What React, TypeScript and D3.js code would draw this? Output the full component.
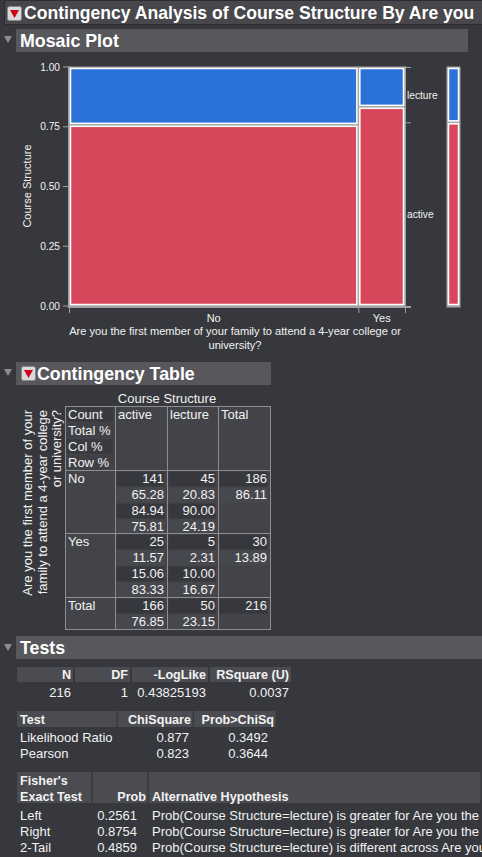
import React from 'react';
import * as d3 from 'd3';

const firstGen = ['No', 'Yes'];
const structures = ['active', 'lecture'];
const counts = [
  [141, 45],
  [25, 5],
];
const yTicks = [0, 0.25, 0.5, 0.75, 1];

const fitHeaders = ['N', 'DF', '-LogLike', 'RSquare (U)'];
const fitValues = ['216', '1', '0.43825193', '0.0037'];

const testHeaders = ['Test', 'ChiSquare', 'Prob>ChiSq'];
const testNames = ['Likelihood Ratio', 'Pearson'];
const chiSquares = ['0.877', '0.823'];
const chiProbs = ['0.3492', '0.3644'];

const fisherSides = ['Left', 'Right', '2-Tail'];
const fisherProbs = ['0.2561', '0.8754', '0.4859'];
// only the visible part of each hypothesis fits the report width
const fisherHyp = [
  'Prob(Course Structure=lecture) is greater for Are you the',
  'Prob(Course Structure=lecture) is greater for Are you the',
  'Prob(Course Structure=lecture) is different across Are you',
];

const BG = '#36383d';
const BLUE = '#2a72d8';
const RED = '#d8465b';
const TXT = '#f2f2f2';
const FONT = '"Liberation Sans", Arial, Helvetica, sans-serif';

const RedIcon = ({ x, y }: { x: number; y: number }) => (
  <g transform={`translate(${x},${y})`}>
    <rect x={0.5} y={0.5} width={14} height={14} rx={2} fill="#d9d9d9" stroke="#8a8a8a" />
    <path d="M3,4 L12,4 L7.5,12 Z" fill="#d0021b" />
  </g>
);

const Disclosure = ({ x, y }: { x: number; y: number }) => (
  <path d={`M${x},${y} L${x + 8},${y} L${x + 4},${y + 7} Z`} fill="#8e8e93" />
);

function Mosaic() {
  const rowTotals = counts.map(r => d3.sum(r));
  const grand = d3.sum(rowTotals);
  const colTotals = structures.map((_, j) => d3.sum(counts, r => r[j]));
  const x = d3.scaleLinear().domain([0, grand]).range([69, 405]);
  const y = d3.scaleLinear().domain([0, 1]).range([306, 67]);
  const cum = [0, ...d3.cumsum(rowTotals)];
  const colors = [RED, BLUE];
  const margActive = colTotals[0] / grand;

  const cells: JSX.Element[] = [];
  firstGen.forEach((g, i) => {
    const x0 = x(cum[i]);
    const x1 = x(cum[i + 1]);
    let acc = 0;
    structures.forEach((s, j) => {
      const p = counts[i][j] / rowTotals[i];
      const yb = y(acc);
      const yt = y(acc + p);
      acc += p;
      cells.push(
        <rect key={g + s} x={x0 + 1.5} y={yt + 1.5} width={x1 - x0 - 3} height={yb - yt - 3}
          fill={colors[j]} stroke="#fff" strokeWidth={1.5} />
      );
    });
  });

  // side bar with marginal proportions
  const sb0 = 447, sb1 = 460;
  const side: JSX.Element[] = [];
  let acc = 0;
  structures.forEach((s, j) => {
    const p = colTotals[j] / grand;
    const yb = y(acc);
    const yt = y(acc + p);
    acc += p;
    side.push(
      <rect key={s} x={sb0 + 1.5} y={yt + 1.5} width={sb1 - sb0 - 3} height={yb - yt - 3}
        fill={colors[j]} stroke="#fff" strokeWidth={1.5} />
    );
  });

  return (
    <g fontFamily={FONT} fill={TXT}>
      <rect x={68.5} y={66.5} width={405 - 68.5} height={307 - 66.5} fill="#a6a6a6" />
      {cells}
      {/* y axis */}
      <line x1={68.5} x2={68.5} y1={66} y2={307} stroke="#a0a0a0" />
      {yTicks.map(t => (
        <g key={t}>
          <line x1={63} x2={68} y1={y(t)} y2={y(t)} stroke="#a0a0a0" />
          <text x={60} y={y(t) + 3.5} fontSize={10.2} textAnchor="end">{d3.format('.2f')(t)}</text>
        </g>
      ))}
      <text transform="translate(31,186) rotate(-90)" fontSize={11} textAnchor="middle">Course Structure</text>
      {/* bottom axis */}
      <line x1={68} x2={411} y1={307.5} y2={307.5} stroke="#a0a0a0" />
      {cum.map((c, i) => (
        <line key={i} x1={x(c) + 0.5} x2={x(c) + 0.5} y1={307} y2={313} stroke="#a0a0a0" />
      ))}
      {firstGen.map((g, i) => (
        <text key={g} x={(x(cum[i]) + x(cum[i + 1])) / 2} y={321.5} fontSize={11} textAnchor="middle">{g}</text>
      ))}
      <text x={235} y={334.5} fontSize={11.1} textAnchor="middle">Are you the first member of your family to attend a 4-year college or</text>
      <text x={235} y={348.5} fontSize={11.1} textAnchor="middle">university?</text>
      {/* right axis */}
      <line x1={405.5} x2={405.5} y1={66} y2={307} stroke="#a0a0a0" />
      {[0, margActive, 1].map((t, i) => (
        <line key={i} x1={405} x2={411} y1={y(t) + 0.5} y2={y(t) + 0.5} stroke="#a0a0a0" />
      ))}
      <text x={407} y={y((margActive + 1) / 2) + 4} fontSize={10.2}>{structures[1]}</text>
      <text x={407} y={y(margActive / 2) + 4} fontSize={10.2}>{structures[0]}</text>
      {/* side bar */}
      <rect x={sb0 - 0.5} y={66.5} width={sb1 - sb0 + 1} height={241} fill="#a6a6a6" />
      {side}
    </g>
  );
}

function ContTable() {
  const xs = [65, 115, 167, 218, 270];
  const top = 406;
  const sub = 16;
  const blocks = [
    { label: '', rows: 4, y0: top },
    { label: 'No', rows: 4, y0: top + 64 },
    { label: 'Yes', rows: 4, y0: top + 127 },
    { label: 'Total', rows: 2, y0: top + 191 },
  ];
  const bottom = top + 223;
  const rowTotals = counts.map(r => d3.sum(r));
  const grand = d3.sum(rowTotals);
  const colTotals = structures.map((_, j) => d3.sum(counts, r => r[j]));
  const f2 = d3.format('.2f');

  const values = (bi: number, ci: number): string[] => {
    if (bi === 0) return [];
    if (bi <= 2) {
      const i = bi - 1;
      if (ci < 2) {
        const n = counts[i][ci];
        return [String(n), f2((n / grand) * 100), f2((n / colTotals[ci]) * 100), f2((n / rowTotals[i]) * 100)];
      }
      return [String(rowTotals[i]), f2((rowTotals[i] / grand) * 100)];
    }
    if (ci < 2) return [String(colTotals[ci]), f2((colTotals[ci] / grand) * 100)];
    return [String(grand)];
  };

  const els: JSX.Element[] = [];
  blocks.forEach((b, bi) => {
    for (let ci = 0; ci < 4; ci++) {
      const vals = values(bi, ci);
      vals.forEach((v, k) => {
        const yy = b.y0 + k * sub;
        els.push(
          <rect key={`b${bi}${ci}${k}`} x={xs[ci + 1] + 1.5} y={yy + 1.5} width={xs[ci + 2] - xs[ci + 1] - 4} height={sub - 1}
            fill={k % 2 === 0 ? '#37383d' : '#47484d'} />
        );
        els.push(
          <text key={`t${bi}${ci}${k}`} x={xs[ci + 2] - 3} y={yy + 13} fontSize={13} textAnchor="end">{v}</text>
        );
      });
    }
  });

  const headLabels = ['Count', 'Total %', 'Col %', 'Row %'];

  return (
    <g fontFamily={FONT} fill={TXT}>
      <text x={167} y={403} fontSize={13} textAnchor="middle">Course Structure</text>
      <rect x={xs[0]} y={top} width={xs[4] - xs[0]} height={bottom - top} fill="#434449" />
      {headLabels.map((h, k) => (
        <g key={h}>
          <rect x={xs[0] + 1} y={top + k * sub + 1} width={xs[1] - xs[0] - 3} height={sub - 1}
            fill={k % 2 === 0 ? '#3a3b40' : '#404146'} />
          <text x={xs[0] + 3} y={top + k * sub + 13} fontSize={13}>{h}</text>
        </g>
      ))}
      {structures.map((s, j) => (
        <text key={s} x={xs[j + 1] + 3} y={top + 13} fontSize={13}>{s}</text>
      ))}
      <text x={xs[3] + 3} y={top + 13} fontSize={13}>Total</text>
      {blocks.slice(1).map(b => (
        <text key={b.label} x={xs[0] + 3} y={b.y0 + 13} fontSize={13}>{b.label}</text>
      ))}
      {els}
      {/* grid */}
      {xs.map(xx => (
        <line key={xx} x1={xx + 0.5} x2={xx + 0.5} y1={top} y2={bottom} stroke="#8d8e94" />
      ))}
      {[...blocks.map(b => b.y0), bottom].map(yy => (
        <line key={yy} x1={xs[0]} x2={xs[4] + 1} y1={yy + 0.5} y2={yy + 0.5} stroke="#8d8e94" />
      ))}
      <g fontSize={13} textAnchor="end">
        <text transform="translate(32,410) rotate(-90)">Are you the first member of your</text>
        <text transform="translate(47,410) rotate(-90)">family to attend a 4-year college</text>
        <text transform="translate(61,410) rotate(-90)">or university?</text>
      </g>
    </g>
  );
}

function Tests() {
  const fitCols = [17, 75, 132, 210, 293];
  const testCols = [17, 118, 194, 277];
  const fishCols = [17, 92.5, 149, 482];
  const hb = '#4b4c51';
  return (
    <g fontFamily={FONT} fill={TXT}>
      {fitHeaders.map((h, i) => (
        <g key={h}>
          <rect x={fitCols[i]} y={667} width={fitCols[i + 1] - fitCols[i] - 2} height={15} fill={hb} />
          <text x={fitCols[i + 1] - 4} y={679} fontSize={12.6} fontWeight="bold" textAnchor="end">{h}</text>
          <text x={fitCols[i + 1] - 4} y={697} fontSize={13} textAnchor="end">{fitValues[i]}</text>
        </g>
      ))}
      {testHeaders.map((h, i) => (
        <g key={h}>
          <rect x={testCols[i]} y={711} width={testCols[i + 1] - testCols[i] - 1.5} height={16} fill={hb} />
          <text x={i === 0 ? testCols[0] + 3 : testCols[i + 1] - 3} y={723.5} fontSize={12.6} fontWeight="bold"
            textAnchor={i === 0 ? 'start' : 'end'}>{h}</text>
        </g>
      ))}
      {testNames.map((n, r) => (
        <g key={n} fontSize={13}>
          <text x={20} y={741.5 + r * 16}>{n}</text>
          <text x={189} y={741.5 + r * 16} textAnchor="end">{chiSquares[r]}</text>
          <text x={268} y={741.5 + r * 16} textAnchor="end">{chiProbs[r]}</text>
        </g>
      ))}
      {fishCols.slice(0, 3).map((c, i) => (
        <rect key={c} x={c} y={772} width={fishCols[i + 1] - c - 1.5} height={31} fill={hb} />
      ))}
      <g fontSize={12.6} fontWeight="bold">
        <text x={20} y={785}>Fisher's</text>
        <text x={20} y={801}>Exact Test</text>
        <text x={146} y={801} textAnchor="end">Prob</text>
        <text x={152} y={801}>Alternative Hypothesis</text>
      </g>
      {fisherSides.map((s, r) => (
        <g key={s} fontSize={13}>
          <text x={20} y={819.5 + r * 16}>{s}</text>
          <text x={137} y={819.5 + r * 16} textAnchor="end">{fisherProbs[r]}</text>
          <text x={152} y={819.5 + r * 16}>{fisherHyp[r]}</text>
        </g>
      ))}
    </g>
  );
}

export default function App() {
  return (
    <div style={{ position: 'absolute', left: 0, top: 0, width: 482, height: 857, overflow: 'hidden' }}>
      <svg width={482} height={857} style={{ display: 'block', background: BG }}>
        <rect width={482} height={857} fill={BG} />
        {/* report title */}
        <rect x={4.5} y={0.5} width={490} height={24} fill="#47474c" stroke="#2c2d31" />
        <RedIcon x={7} y={6} />
        <text x={24} y={19} fontFamily={FONT} fontWeight="bold" fontSize={17.6} fill="#fff">
          Contingency Analysis of Course Structure By Are you
        </text>
        {/* mosaic header */}
        <Disclosure x={4} y={36} />
        <rect x={16} y={29} width={452} height={23} fill="#58575c" />
        <text x={20} y={46.5} fontFamily={FONT} fontWeight="bold" fontSize={17.8} fill="#fff">Mosaic Plot</text>
        <Mosaic />
        {/* contingency header */}
        <Disclosure x={4} y={369} />
        <rect x={16} y={362} width={255} height={23} fill="#58575c" />
        <RedIcon x={21} y={366} />
        <text x={37} y={379.5} fontFamily={FONT} fontWeight="bold" fontSize={17.8} fill="#fff">Contingency Table</text>
        <ContTable />
        {/* tests header */}
        <Disclosure x={4} y={644} />
        <rect x={16} y={636} width={470} height={23} fill="#58575c" />
        <text x={20} y={653.5} fontFamily={FONT} fontWeight="bold" fontSize={17.8} fill="#fff">Tests</text>
        <Tests />
      </svg>
    </div>
  );
}
